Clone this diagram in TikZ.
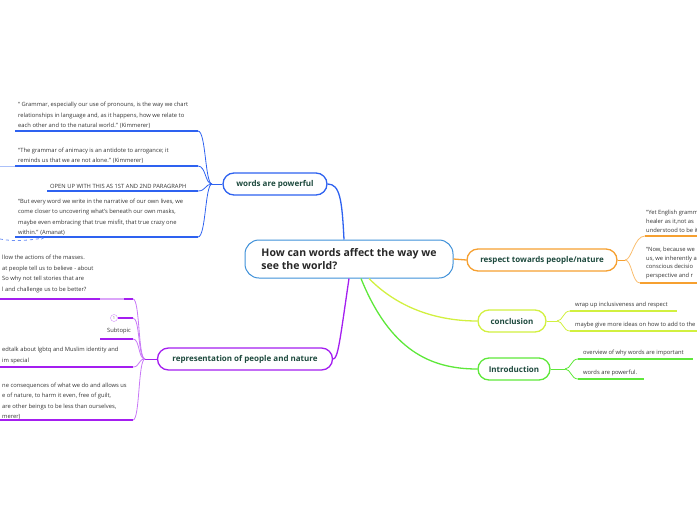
\documentclass[tikz,border=0pt]{standalone}
\usepackage{fontspec}
\setmainfont{Open Sans}
\usetikzlibrary{arrows.meta}
\definecolor{cblue}{HTML}{2E62F0}
\definecolor{cpurp}{HTML}{A41EF0}
\definecolor{corange}{HTML}{F6A030}
\definecolor{cyel}{HTML}{D2F040}
\definecolor{cgreen}{HTML}{5EE83A}
\definecolor{ccen}{HTML}{3E90D8}
\definecolor{ctxt}{HTML}{1E4A3E}
\begin{document}
\begin{tikzpicture}[x=1pt,y=-1pt,
  main/.style={draw=#1,line width=1.3pt,rounded corners=11pt,fill=white,font=\fontsize{8}{9}\selectfont\bfseries,text=ctxt,minimum height=22pt,inner xsep=9pt},
  sub/.style={font=\fontsize{5.8}{10.6}\selectfont,text=black!80,align=left,anchor=south west,inner sep=2pt},
  ul/.style={line width=1.3pt,draw=#1},
  br/.style={line width=0.8pt,draw=#1}]
\useasboundingbox (0,0) rectangle (697,520);
% central
\node[draw=ccen,line width=1pt,rounded corners=14pt,minimum width=208pt,minimum height=38pt,align=left,font=\fontsize{10.5}{13}\selectfont\bfseries,text=black!85] (c) at (349,259) {How can words affect the way we\\see the world?};
% main topics
\node[main=cblue,minimum width=104pt] (wp) at (275,184) {words are powerful};
\node[main=cpurp,minimum width=175pt] (rep) at (245,359) {representation of people and nature};
\node[main=corange,minimum width=150pt] (res) at (542,260) {respect towards people/nature};
\node[main=cyel,minimum width=68pt] (con) at (512,321) {conclusion};
\node[main=cgreen,minimum width=72pt] (intro) at (514,369) {Introduction};
% main connectors
\draw[br=cblue,line width=1.3pt] (c.north) ++(-5,0) coordinate (cb) .. controls (342,200) and (340,184) .. (wp.east);
\draw[br=cpurp,line width=1.3pt] (c.south) ++(0,0) coordinate (cp) .. controls (340,340) and (338,359) .. (rep.east);
\draw[br=corange,line width=1.3pt] (c.east) -- (res.west);
\draw[br=cyel,line width=1.3pt] (c.south) ++(20,0) coordinate (cy) .. controls (400,310) and (440,321) .. (con.west);
\draw[br=cgreen,line width=1.3pt] (c.south) ++(12,0) coordinate (cg) .. controls (390,350) and (430,369) .. (intro.west);
% words are powerful subtopics
\coordinate (wb) at (212,184);
\draw[br=cblue] (wp.west) -- (wb);
\node[sub] (w1) at (16,131) {“ Grammar, especially our use of pronouns, is the way we chart\\relationships in language and, as it happens, how we relate to\\each other and to the natural world.” (Kimmerer)};
\draw[ul=cblue] (15,131) coordinate (w1a) -- (198,131) coordinate (w1b);
\draw[br=cblue] (wb) .. controls (205,184) and (206,131) .. (w1b);
\node[sub] (w2) at (16,166) {“The grammar of animacy is an antidote to arrogance; it\\reminds us that we are not alone.” (Kimmerer)};
\draw[ul=cblue] (15,166) -- (198,166) coordinate (w2b);
\draw[cblue!40,line width=0.8pt] (0,166) -- (15,166);
\draw[br=cblue] (wb) .. controls (205,184) and (206,166) .. (w2b);
\node[sub] (w3) at (48,191) {OPEN UP WITH THIS AS 1ST AND 2ND PARAGRAPH};
\draw[ul=cblue] (47,191) -- (198,191) coordinate (w3b);
\draw[br=cblue] (wb) .. controls (205,184) and (206,191) .. (w3b);
\node[sub] (w4) at (16,238) {“But every word we write in the narrative of our own lives, we\\come closer to uncovering what’s beneath our own masks,\\maybe even embracing that true misfit, that true crazy one\\within.” (Amanat)};
\draw[ul=cblue] (15,237) -- (198,237) coordinate (w4b);
\draw[br=cblue] (wb) .. controls (205,184) and (206,237) .. (w4b);
\coordinate (dstart) at (0,239);
\coordinate (dend) at (44,238);
\draw[cblue!70,dashed,line width=0.8pt,-{Stealth[length=3pt]}] (dstart) .. controls (15,242) and (30,240) .. (dend);
% representation subtopics
\coordinate (pb) at (145,359);
\draw[br=cpurp] (rep.west) -- (pb);
\node[sub] (p1) at (0,295) {llow the actions of the masses.\\at people tell us to believe - about\\So why not tell stories that are\\l and challenge us to be better?};
\draw[ul=cpurp] (0,299) -- (100,299);
\draw[cpurp!40,line width=1.3pt] (100,299) -- (124,299);
\draw[ul=cpurp] (124,299) -- (133,299) coordinate (p1b);
\draw[br=cpurp!60] (pb) .. controls (138,359) and (140,299) .. (p1b);
\node[draw=cpurp!50,circle,inner sep=0pt,minimum size=7pt,font=\fontsize{4}{4}\selectfont,text=black!60] (n1) at (114,318) {1};
\draw[ul=cpurp] (n1.east) -- (133,318) coordinate (p2b);
\draw[br=cpurp!60] (pb) .. controls (138,359) and (140,318) .. (p2b);
\node[sub,anchor=center] (st) at (119,331) {Subtopic};
\draw[ul=cpurp] (100,339) -- (133,339) coordinate (p3b);
\draw[br=cpurp!60] (pb) .. controls (138,359) and (140,339) .. (p3b);
\node[sub] (p4) at (0,366) {edtalk about lgbtq and Muslim identity and\\im special};
\draw[ul=cpurp] (0,367) -- (133,367) coordinate (p4b);
\draw[br=cpurp!60] (pb) .. controls (138,359) and (140,367) .. (p4b);
\node[sub] (p5) at (0,422) {ne consequences of what we do and allows us\\e of nature, to harm it even, free of guilt,\\are other beings to be less than ourselves,\\merer)};
\draw[ul=cpurp] (0,420) -- (133,420) coordinate (p5b);
\draw[br=cpurp!60] (pb) .. controls (138,359) and (140,420) .. (p5b);
% respect subtopics
\coordinate (ob) at (625,260);
\draw[br=corange] (res.east) -- (ob);
\node[sub,font=\fontsize{5.8}{9}\selectfont] (o1) at (644,235) {“Yet English grammar\\healer as it,not as\\understood to be it};
\draw[ul=corange] (645,236) coordinate (o1b) -- (697,236);
\draw[br=corange!70] (ob) .. controls (632,260) and (634,236) .. (o1b);
\node[sub,font=\fontsize{5.8}{8.5}\selectfont] (o2) at (644,281) {“Now, because we\\us, we inherently a\\conscious decisio\\perspective and r};
\draw[ul=corange] (640,283) coordinate (o2b) -- (697,283);
\draw[br=corange!70] (ob) .. controls (632,260) and (632,283) .. (o2b);
% conclusion subtopics
\coordinate (yb) at (557,321);
\draw[br=cyel] (con.east) -- (yb);
\node[sub] (y1) at (573,310) {wrap up inclusiveness and respect};
\draw[ul=cyel] (570,311) coordinate (y1b) -- (677,311);
\draw[br=cyel] (yb) .. controls (563,321) and (563,311) .. (y1b);
\node[sub] (y2) at (573,330) {maybe give more ideas on how to add to the};
\draw[ul=cyel] (570,331) coordinate (y2b) -- (697,331);
\draw[br=cyel] (yb) .. controls (563,321) and (563,331) .. (y2b);
% introduction subtopics
\coordinate (gb) at (565,369);
\draw[br=cgreen] (intro.east) -- (gb);
\node[sub] (g1) at (581,358) {overview of why words are important};
\draw[ul=cgreen] (578,359) coordinate (g1b) -- (693,359);
\draw[br=cgreen] (gb) .. controls (571,369) and (571,359) .. (g1b);
\node[sub] (g2) at (581,378) {words are powerful.};
\draw[ul=cgreen] (578,379) coordinate (g2b) -- (644,379);
\draw[br=cgreen] (gb) .. controls (571,369) and (571,379) .. (g2b);
\end{tikzpicture}
\end{document}
